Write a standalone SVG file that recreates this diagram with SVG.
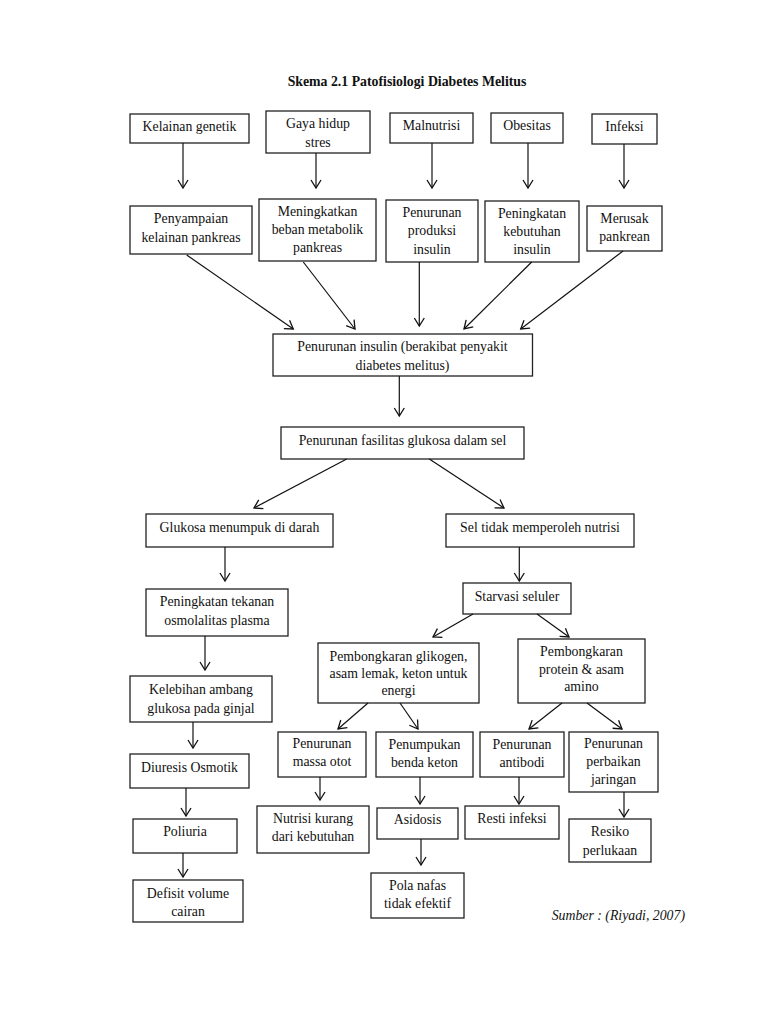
<svg xmlns="http://www.w3.org/2000/svg" width="768" height="1024" viewBox="0 0 768 1024">
<style>
.b{fill:#fff;stroke:#222;stroke-width:1.3}
.t{font-family:"Liberation Serif","Times New Roman",serif;font-size:13.8px;fill:#111;text-anchor:middle}
.c line{stroke:#111;stroke-width:1.2;marker-end:url(#ah)}
</style>
<defs>
<marker id="ah" markerUnits="userSpaceOnUse" markerWidth="12" markerHeight="12" viewBox="0 0 12 12" refX="10" refY="6" orient="auto">
<path d="M2,1 L10,6 L2,11" fill="none" stroke="#111" stroke-width="1.3"/>
</marker>
</defs>
<rect width="768" height="1024" fill="#fff"/>
<text x="407" y="86" class="t" style="font-weight:bold">Skema 2.1 Patofisiologi Diabetes Melitus</text>

<g id="n1"><rect class="b" x="130" y="114" width="119" height="29"/><text class="t" x="189.5" y="130.5">Kelainan genetik</text></g>
<g id="n2"><rect class="b" x="266" y="111" width="104" height="42"/><text class="t" x="318" y="128">Gaya hidup</text><text class="t" x="318" y="146.5">stres</text></g>
<g id="n3"><rect class="b" x="390" y="113" width="83" height="30"/><text class="t" x="431.5" y="130">Malnutrisi</text></g>
<g id="n4"><rect class="b" x="491" y="113" width="72" height="30"/><text class="t" x="527" y="130">Obesitas</text></g>
<g id="n5"><rect class="b" x="592" y="114" width="65" height="30"/><text class="t" x="624.5" y="131">Infeksi</text></g>

<g id="n6"><rect class="b" x="130" y="206" width="122" height="48"/><text class="t" x="191" y="222.5">Penyampaian</text><text class="t" x="191" y="241.5">kelainan pankreas</text></g>
<g id="n7"><rect class="b" x="259" y="199" width="117" height="62"/><text class="t" x="317.5" y="216">Meningkatkan</text><text class="t" x="317.5" y="234">beban metabolik</text><text class="t" x="317.5" y="252">pankreas</text></g>
<g id="n8"><rect class="b" x="386" y="200" width="92" height="62"/><text class="t" x="432" y="217">Penurunan</text><text class="t" x="432" y="235">produksi</text><text class="t" x="432" y="253.5">insulin</text></g>
<g id="n9"><rect class="b" x="485" y="201" width="94" height="61"/><text class="t" x="532" y="218">Peningkatan</text><text class="t" x="532" y="236">kebutuhan</text><text class="t" x="532" y="254">insulin</text></g>
<g id="n10"><rect class="b" x="587" y="206" width="75" height="45"/><text class="t" x="624.5" y="222.5">Merusak</text><text class="t" x="624.5" y="240.5">pankrean</text></g>

<g id="n11"><rect class="b" x="273" y="334" width="259.5" height="42"/><text class="t" x="402.5" y="351">Penurunan insulin (berakibat penyakit</text><text class="t" x="402.5" y="369.5">diabetes melitus)</text></g>
<g id="n12"><rect class="b" x="281" y="427" width="243" height="32"/><text class="t" x="402.5" y="445">Penurunan fasilitas glukosa dalam sel</text></g>

<g id="n13"><rect class="b" x="146" y="514" width="187" height="33"/><text class="t" x="239.5" y="532">Glukosa menumpuk di darah</text></g>
<g id="n14"><rect class="b" x="446" y="514" width="188" height="33"/><text class="t" x="540" y="532">Sel tidak memperoleh nutrisi</text></g>

<g id="n15"><rect class="b" x="146" y="589" width="142" height="47"/><text class="t" x="217" y="606">Peningkatan tekanan</text><text class="t" x="217" y="625">osmolalitas plasma</text></g>
<g id="n16"><rect class="b" x="130" y="676" width="142" height="46"/><text class="t" x="201" y="693.5">Kelebihan ambang</text><text class="t" x="201" y="712.5">glukosa pada ginjal</text></g>
<g id="n17"><rect class="b" x="130" y="754" width="119" height="34"/><text class="t" x="189.5" y="771.5">Diuresis Osmotik</text></g>
<g id="n18"><rect class="b" x="133" y="819" width="104" height="34"/><text class="t" x="185" y="836">Poliuria</text></g>
<g id="n19"><rect class="b" x="133" y="880" width="110" height="42"/><text class="t" x="188" y="897.5">Defisit volume</text><text class="t" x="188" y="916">cairan</text></g>

<g id="n20"><rect class="b" x="463" y="583" width="108" height="31"/><text class="t" x="517" y="600.5">Starvasi seluler</text></g>
<g id="n21"><rect class="b" x="318" y="643" width="161" height="60"/><text class="t" x="398.5" y="660.5">Pembongkaran glikogen,</text><text class="t" x="398.5" y="678">asam lemak, keton untuk</text><text class="t" x="398.5" y="695">energi</text></g>
<g id="n22"><rect class="b" x="518" y="639" width="127" height="64"/><text class="t" x="581.5" y="655.5">Pembongkaran</text><text class="t" x="581.5" y="674">protein &amp; asam</text><text class="t" x="581.5" y="691">amino</text></g>

<g id="n23"><rect class="b" x="278" y="732" width="88" height="45"/><text class="t" x="322" y="748">Penurunan</text><text class="t" x="322" y="766">massa otot</text></g>
<g id="n24"><rect class="b" x="376" y="732" width="97" height="45"/><text class="t" x="424.5" y="748.5">Penumpukan</text><text class="t" x="424.5" y="767">benda keton</text></g>
<g id="n25"><rect class="b" x="480" y="732" width="84" height="45"/><text class="t" x="522" y="748.5">Penurunan</text><text class="t" x="522" y="767">antibodi</text></g>
<g id="n26"><rect class="b" x="569" y="732" width="89" height="60"/><text class="t" x="613.5" y="748">Penurunan</text><text class="t" x="613.5" y="766">perbaikan</text><text class="t" x="613.5" y="784">jaringan</text></g>

<g id="n27"><rect class="b" x="257" y="806" width="112" height="47"/><text class="t" x="313" y="822.5">Nutrisi kurang</text><text class="t" x="313" y="841">dari kebutuhan</text></g>
<g id="n28"><rect class="b" x="377" y="808" width="81" height="31"/><text class="t" x="417.5" y="824">Asidosis</text></g>
<g id="n29"><rect class="b" x="371" y="873" width="93" height="45"/><text class="t" x="417.5" y="889.5">Pola nafas</text><text class="t" x="417.5" y="907.5">tidak efektif</text></g>
<g id="n30"><rect class="b" x="465" y="806" width="94" height="33"/><text class="t" x="512" y="823">Resti infeksi</text></g>
<g id="n31"><rect class="b" x="569" y="819" width="82" height="43"/><text class="t" x="610" y="836">Resiko</text><text class="t" x="610" y="854.5">perlukaan</text></g>

<text x="685" y="920" class="t" style="text-anchor:end;font-style:italic">Sumber : (Riyadi, 2007)</text>

<g class="c" id="connectors">
<line x1="183" y1="143" x2="183" y2="188"/>
<line x1="316" y1="153" x2="316" y2="188"/>
<line x1="432" y1="143" x2="432" y2="188"/>
<line x1="528" y1="143" x2="528" y2="188"/>
<line x1="624" y1="144" x2="624" y2="188"/>
<line x1="186.7" y1="255" x2="293.3" y2="329"/>
<line x1="303.3" y1="262" x2="355" y2="329"/>
<line x1="419.3" y1="262" x2="419.3" y2="326"/>
<line x1="531.7" y1="262" x2="464" y2="329"/>
<line x1="623" y1="251" x2="520.7" y2="329"/>
<line x1="399.3" y1="376" x2="399.3" y2="416"/>
<line x1="346.7" y1="459" x2="254" y2="508"/>
<line x1="429.3" y1="459" x2="504" y2="508"/>
<line x1="225" y1="547" x2="225" y2="581"/>
<line x1="205" y1="636" x2="205" y2="670"/>
<line x1="193" y1="722" x2="193" y2="748"/>
<line x1="186" y1="788" x2="186" y2="816"/>
<line x1="183" y1="853" x2="183" y2="877"/>
<line x1="519.3" y1="547" x2="519.3" y2="581"/>
<line x1="473" y1="614" x2="433" y2="637"/>
<line x1="537" y1="614" x2="569" y2="637"/>
<line x1="368" y1="703" x2="338" y2="729"/>
<line x1="400" y1="703" x2="418" y2="729"/>
<line x1="562" y1="703" x2="529" y2="729"/>
<line x1="587" y1="703" x2="622" y2="729"/>
<line x1="320" y1="777" x2="320" y2="800"/>
<line x1="420" y1="777" x2="420" y2="804"/>
<line x1="421" y1="839" x2="421" y2="865"/>
<line x1="519" y1="777" x2="519" y2="804"/>
<line x1="624" y1="792" x2="624" y2="817"/>
</g>
</svg>
